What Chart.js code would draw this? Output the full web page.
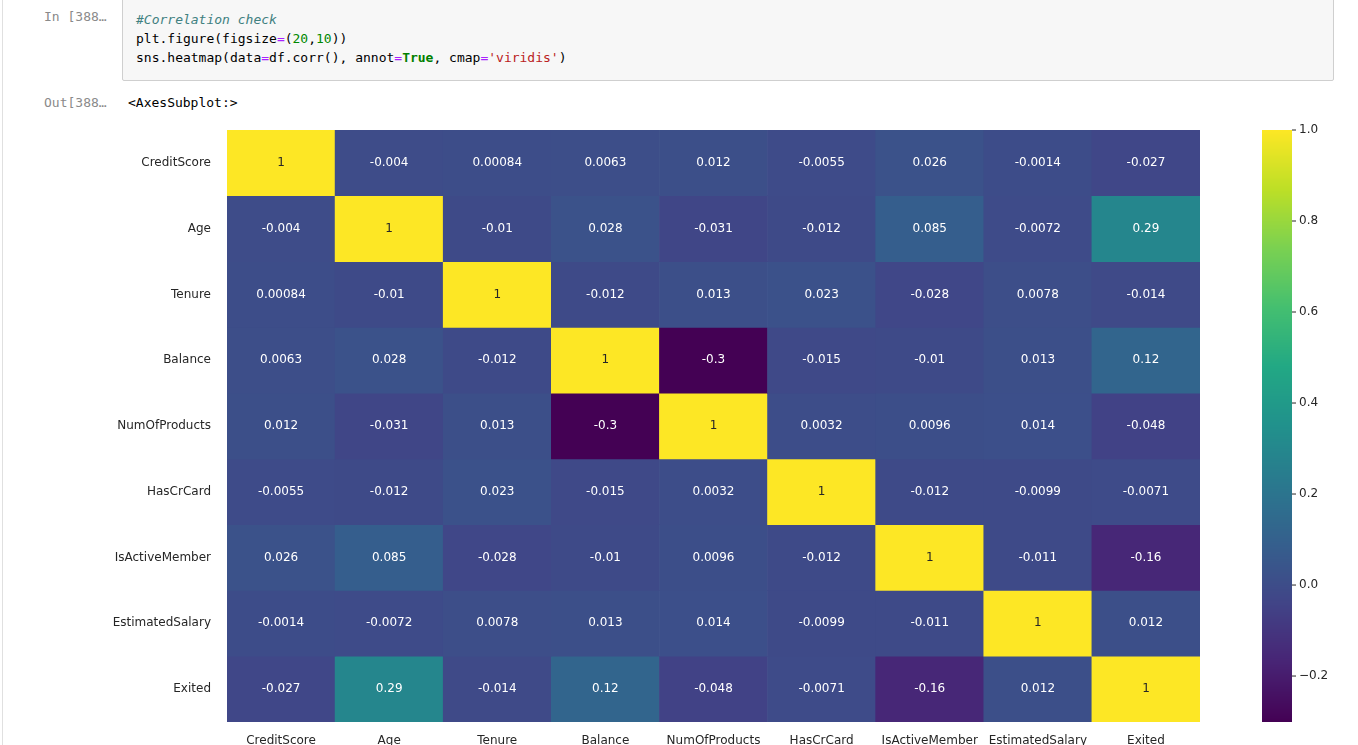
<!DOCTYPE html>
<html>
<head>
<meta charset="utf-8">
<script src="https://cdn.jsdelivr.net/npm/chart.js@4"></script>
<style>
  body { margin: 0; width: 1358px; height: 745px; background: #fff; position: relative; overflow: hidden; font-family: "DejaVu Sans", sans-serif; }
  .prompt { position: absolute; left: 44px; font: 13px "DejaVu Sans Mono", monospace; color: #8a8a8a; }
  .code { position: absolute; left: 122px; top: -2px; width: 1210px; height: 81px; background: #f7f7f7; border: 1px solid #cfcfcf; border-radius: 2px; }
  .code pre { margin: 0; padding: 11px 0 0 13px; font: 13px/19px "DejaVu Sans Mono", monospace; color: #000; }
  .cm { color: #408080; font-style: italic; }
  .kw { color: #008000; font-weight: bold; }
  .st { color: #ba2121; }
  .op { color: #aa22ff; }
  .out { position: absolute; left: 128px; top: 95px; font: 13px "DejaVu Sans Mono", monospace; }
  .edge { position: absolute; left: 2px; top: 0; width: 1px; height: 745px; background: #e0e0e0; }
  canvas { position: absolute; left: 0; top: 0; }
</style>
</head>
<body>
<div class="edge"></div>
<div class="prompt" style="top:9px">In [388…</div>
<div class="code"><pre><span class="cm">#Correlation check</span>
plt.figure(figsize<span class="op">=</span>(<span class="kw" style="color:#080;font-weight:normal">20</span>,<span style="color:#080">10</span>))
sns.heatmap(data<span class="op">=</span>df.corr(), annot<span class="op">=</span><span class="kw">True</span>, cmap<span class="op">=</span><span class="st">'viridis'</span>)</pre></div>
<div class="prompt" style="top:95px">Out[388…</div>
<div class="out">&lt;AxesSubplot:&gt;</div>
<canvas id="c" width="1358" height="745"></canvas>
<script>
const labels = ["CreditScore","Age","Tenure","Balance","NumOfProducts","HasCrCard","IsActiveMember","EstimatedSalary","Exited"];
const rowCreditScore     = [1, -0.004, 0.00084, 0.0063, 0.012, -0.0055, 0.026, -0.0014, -0.027];
const rowAge             = [-0.004, 1, -0.01, 0.028, -0.031, -0.012, 0.085, -0.0072, 0.29];
const rowTenure          = [0.00084, -0.01, 1, -0.012, 0.013, 0.023, -0.028, 0.0078, -0.014];
const rowBalance         = [0.0063, 0.028, -0.012, 1, -0.3, -0.015, -0.01, 0.013, 0.12];
const rowNumOfProducts   = [0.012, -0.031, 0.013, -0.3, 1, 0.0032, 0.0096, 0.014, -0.048];
const rowHasCrCard       = [-0.0055, -0.012, 0.023, -0.015, 0.0032, 1, -0.012, -0.0099, -0.0071];
const rowIsActiveMember  = [0.026, 0.085, -0.028, -0.01, 0.0096, -0.012, 1, -0.011, -0.16];
const rowEstimatedSalary = [-0.0014, -0.0072, 0.0078, 0.013, 0.014, -0.0099, -0.011, 1, 0.012];
const rowExited          = [-0.027, 0.29, -0.014, 0.12, -0.048, -0.0071, -0.16, 0.012, 1];
const rows = [rowCreditScore, rowAge, rowTenure, rowBalance, rowNumOfProducts, rowHasCrCard, rowIsActiveMember, rowEstimatedSalary, rowExited];
const colorbarTicks = [-0.2, 0.0, 0.2, 0.4, 0.6, 0.8, 1.0];

const VMIN = -0.301, VMAX = 1.0;
const viridis = ["#440154","#482475","#414487","#355f8d","#2a788e","#21918c","#22a884","#44bf70","#7ad151","#bddf26","#fde725"];

function hex(h) { return [1,3,5].map(i => parseInt(h.substr(i,2),16)); }
function cmap(v) {
  let t = Math.max(0, Math.min(1, (v - VMIN) / (VMAX - VMIN))) * 10;
  let i = Math.min(9, Math.floor(t)), f = t - i;
  let a = hex(viridis[i]), b = hex(viridis[i+1]);
  return a.map((x, k) => Math.round(x + (b[k] - x) * f));
}
function css(rgb) { return "rgb(" + rgb.join(",") + ")"; }

const datasets = rows.map((r, i) => ({
  label: labels[i],
  data: r.map(() => 1),
  raw: r,
  backgroundColor: r.map(v => css(cmap(v))),
  borderWidth: 0,
  barPercentage: 1,
  categoryPercentage: 1
}));

const annotate = {
  id: "annotate",
  afterDatasetsDraw(chart) {
    const ctx = chart.ctx;
    ctx.save();
    ctx.font = "12px 'DejaVu Sans', sans-serif";
    ctx.textAlign = "center";
    ctx.textBaseline = "middle";
    chart.data.datasets.forEach((ds, i) => {
      chart.getDatasetMeta(i).data.forEach((el, j) => {
        const v = ds.raw[j];
        const c = cmap(v);
        const lum = 0.299 * c[0] + 0.587 * c[1] + 0.114 * c[2];
        ctx.fillStyle = lum > 140 ? "#262626" : "#ffffff";
        const y = (el.y + el.base) / 2;
        ctx.fillText(String(v), el.x, y);
      });
    });
    // colorbar
    const x0 = 1262, w = 30, top = chart.chartArea.top, bot = chart.chartArea.bottom;
    for (let y = top; y < bot; y++) {
      const v = VMAX - (y - top + 0.5) / (bot - top) * (VMAX - VMIN);
      ctx.fillStyle = css(cmap(v));
      ctx.fillRect(x0, y, w, 1);
    }
    ctx.fillStyle = "#262626";
    ctx.strokeStyle = "#262626";
    ctx.textAlign = "left";
    ctx.font = "12px 'DejaVu Sans', sans-serif";
    colorbarTicks.forEach(t => {
      const y = top + (VMAX - t) / (VMAX - VMIN) * (bot - top);
      ctx.beginPath();
      ctx.moveTo(x0 + w, y); ctx.lineTo(x0 + w + 4, y); ctx.stroke();
      ctx.fillText(t.toFixed(1).replace("-", "\u2212"), x0 + w + 7, y);
    });
    ctx.restore();
  }
};

Chart.defaults.font.family = "'DejaVu Sans', sans-serif";
Chart.defaults.font.size = 12;
Chart.defaults.color = "#262626";

new Chart(document.getElementById("c"), {
  type: "bar",
  data: { labels: labels, datasets: datasets },
  options: {
    responsive: false,
    animation: false,
    layout: { padding: { top: 130, right: 158, left: 0, bottom: 0 } },
    plugins: { legend: { display: false }, tooltip: { enabled: false } },
    scales: {
      x: {
        stacked: true,
        grid: { display: false },
        border: { display: false },
        ticks: { maxRotation: 0, autoSkip: false, padding: 4 },
        afterFit(s) { s.height = 23; }
      },
      y: {
        stacked: true,
        reverse: true,
        min: 0, max: 9,
        grid: { display: false },
        border: { display: false },
        afterBuildTicks(s) { s.ticks = labels.map((l, i) => ({ value: i + 0.5 })); },
        ticks: { padding: 8, callback: v => labels[Math.floor(v)] },
        afterFit(s) { s.width = 227; }
      }
    }
  },
  plugins: [annotate]
});
</script>
</body>
</html>
